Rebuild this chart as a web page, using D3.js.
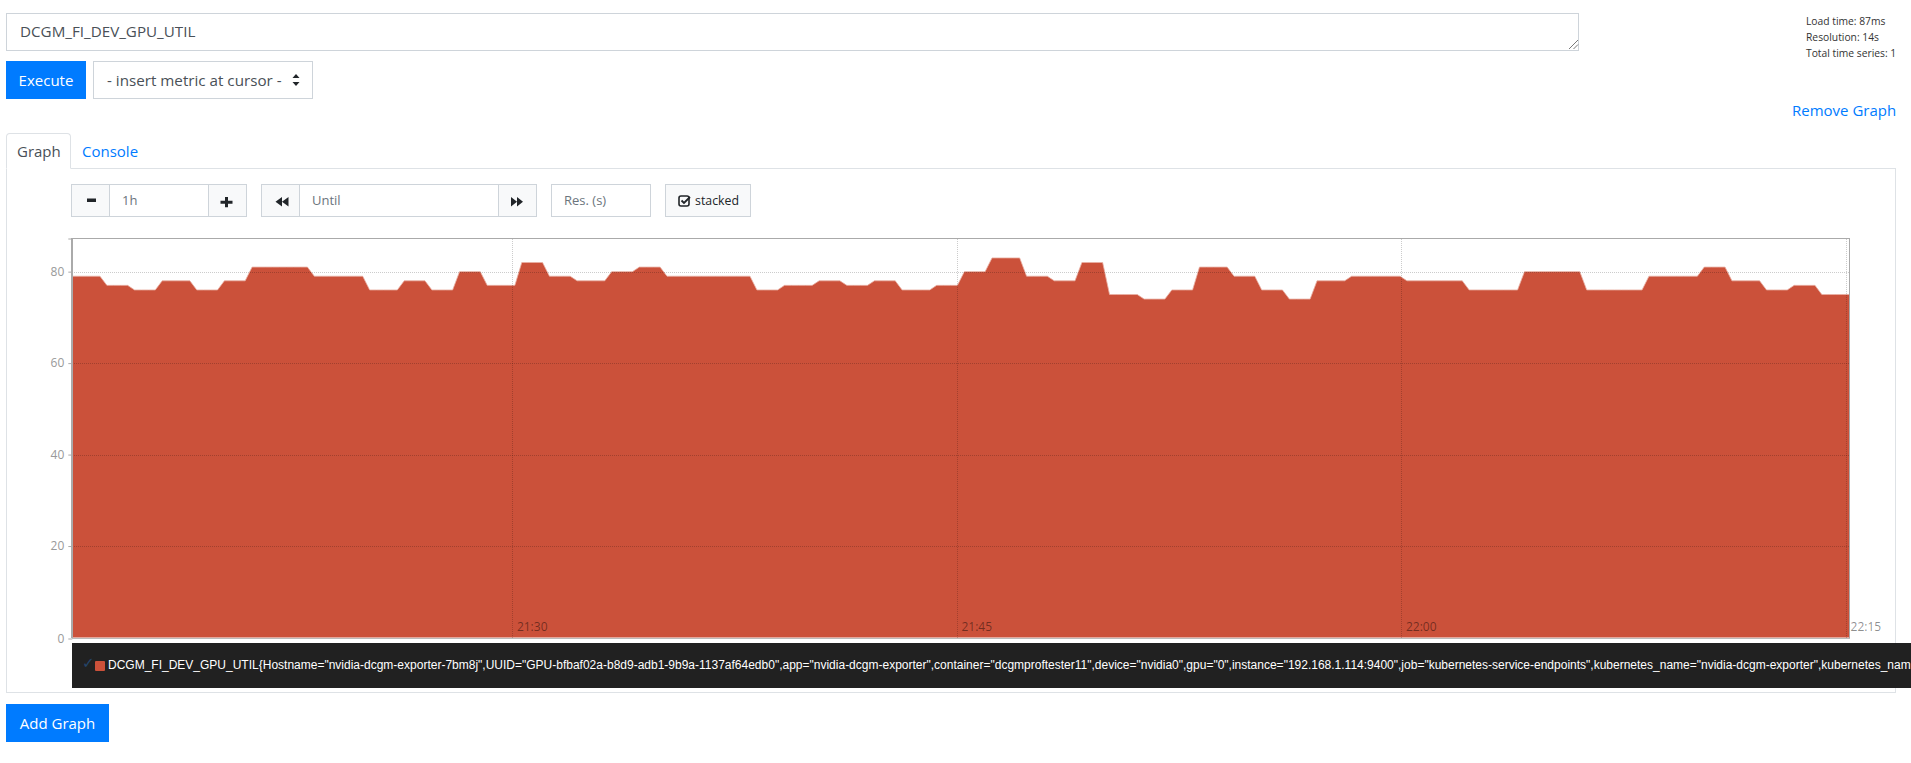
<!DOCTYPE html>
<html>
<head>
<meta charset="utf-8">
<script src="https://cdnjs.cloudflare.com/ajax/libs/d3/7.8.5/d3.min.js"></script>
<style>
  html, body { margin: 0; padding: 0; background: #fff; overflow: hidden; }
  body { width: 1911px; height: 763px; position: relative; font-family: "Open Sans", sans-serif; color: #495057; }
  .box { position: absolute; box-sizing: border-box; }
  .field { border: 1px solid #ced4da; background: #fff; font-size: 15.2px; line-height: 1; display: flex; align-items: center; }
  .btn { background: #007bff; color: #fff; font-size: 15px; display: flex; align-items: center; justify-content: center; }
  .addon { background: #f8f9fa; border: 1px solid #ced4da; color: #212529; display: flex; align-items: center; justify-content: center; font-size: 13px; }
  .small { font-size: 13px; color: #6c757d; padding-left: 12px; }
  #info { left: 1806px; top: 13px; font-size: 10.3px; line-height: 16px; color: #333; white-space: nowrap; }
  #legend { left: 72px; top: 643px; width: 1839px; height: 45px; background: #212121; overflow: hidden; }
  #legend .swatch { position: absolute; left: 23px; top: 18px; width: 10px; height: 10px; background: #cb513a; border-radius: 1px; }
  #legend .check { position: absolute; left: 10px; top: 11px; font-size: 15px; color: #24456b; font-family: "DejaVu Sans"; }
  #legend .label { position: absolute; left: 36px; top: 15px; font: 12px "Liberation Sans"; color: #fff; white-space: nowrap; }
</style>
</head>
<body>
<div id="wrapper"></div>
<script>
// chart values (one sample every 14s)
const startTime = "21:15:09"
const stepSeconds = 14
const utilization = [
  79,79,79,79,79, 77,77,77,77, 76,76,76,76, 78,78,78,78,78, 76,76,76,76, 78,78,78,78,
  81,81,81,81,81,81,81,81,81, 79,79,79,79,79,79,79,79, 76,76,76,76,76, 78,78,78,78,
  76,76,76,76, 80,80,80,80, 77,77,77,77,77, 82,82,82,82, 79,79,79,79, 78,78,78,78,78,
  80,80,80,80, 81,81,81,81, 79,79,79,79,79,79,79,79,79,79,79,79,79, 76,76,76,76,
  77,77,77,77,77, 78,78,78,78, 77,77,77,77, 78,78,78,78, 76,76,76,76,76, 77,77,77,77,
  80,80,80,80, 83,83,83,83,83, 79,79,79,79, 78,78,78,78, 82,82,82,82, 75,75,75,75,75,
  74,74,74,74, 76,76,76,76, 81,81,81,81,81, 79,79,79,79, 76,76,76,76, 74,74,74,74,
  78,78,78,78,78, 79,79,79,79,79,79,79,79, 78,78,78,78,78,78,78,78,78,
  76,76,76,76,76,76,76,76, 80,80,80,80,80,80,80,80,80, 76,76,76,76,76,76,76,76,76,
  79,79,79,79,79,79,79,79, 81,81,81,81, 78,78,78,78,78, 76,76,76,76, 77,77,77,77,
  75,75,75,75,75
]
const yTicks = [0, 20, 40, 60, 80]
const yMax = 87.25
const xTickLabels = ["21:30", "21:45", "22:00", "22:15"]
const infoLines = ["Load time: 87ms", "Resolution: 14s", "Total time series: 1"]
const legendText = 'DCGM_FI_DEV_GPU_UTIL{Hostname="nvidia-dcgm-exporter-7bm8j",UUID="GPU-bfbaf02a-b8d9-adb1-9b9a-1137af64edb0",app="nvidia-dcgm-exporter",container="dcgmproftester11",device="nvidia0",gpu="0",instance="192.168.1.114:9400",job="kubernetes-service-endpoints",kubernetes_name="nvidia-dcgm-exporter",kubernetes_nam'

const parseTime = d3.timeParse("%H:%M:%S")
const fill = "#cb513a"

// create dimensions
const dimensions = { left: 72.3, right: 1849.5, top: 238.5, bottom: 637.5 }

// page chrome around the graph
const body = d3.select("#wrapper")
function box(x, y, w, h, cls, text) {
  return body.append("div")
    .attr("class", "box " + cls)
    .style("left", x + "px").style("top", y + "px")
    .style("width", w + "px").style("height", h + "px")
    .text(text || "")
}

box(6, 13, 1573, 38, "field", "DCGM_FI_DEV_GPU_UTIL").style("padding-left", "13px")
box(6, 61, 80, 38, "btn", "Execute")
box(93, 61, 220, 38, "field", "- insert metric at cursor -").style("padding-left", "13px").style("padding-top", "2px")
body.append("div").attr("class", "box").attr("id", "info")
  .selectAll("div").data(infoLines).join("div").text(d => d)
box(1792, 100, 104, 22, "", "Remove Graph").style("color", "#007bff").style("font-size", "15px").style("white-space", "nowrap")

// tabs and panel
box(6, 168, 1890, 525, "").style("border", "1px solid #dee2e6")
box(6, 133, 65, 36, "", "Graph")
  .style("border", "1px solid #dee2e6").style("border-bottom", "1px solid #fff")
  .style("border-radius", "4px 4px 0 0").style("background", "#fff")
  .style("font-size", "15px").style("padding", "7px 0 0 10px")
box(82, 141, 70, 24, "", "Console").style("color", "#007bff").style("font-size", "15px")

// graph controls
box(71, 184, 39, 33, "addon")
box(109, 184, 100, 33, "field small", "1h")
box(208, 184, 39, 33, "addon")
box(261, 184, 39, 33, "addon")
box(299, 184, 200, 33, "field small", "Until")
box(498, 184, 39, 33, "addon")
box(551, 184, 100, 33, "field small", "Res. (s)")
box(665, 184, 86, 33, "addon", "stacked")
  .style("font-size", "12.3px").style("padding-left", "18px").style("align-items", "center")

// draw the graph
const svg = body.append("svg")
  .attr("width", 1911).attr("height", 763)
  .style("position", "absolute").style("left", 0).style("top", 0)
  .style("pointer-events", "none")

// icons on the controls
const icons = svg.append("g").attr("id", "icons").attr("fill", "#212529")
icons.append("rect").attr("x", 87).attr("y", 198.5).attr("width", 9).attr("height", 3.5)
icons.append("path").attr("d", "M225 197h3v3.7h4.5v3h-4.5v3.5h-3v-3.5h-4.5v-3h4.5z")
icons.append("path").attr("d", "M282 197v9.5l-6.5-4.75zM288.5 197v9.5l-6.5-4.75z")
icons.append("path").attr("d", "M511 197v9.5l6 -4.75zM517 197v9.5l6-4.75z")
icons.append("path").attr("d", "M296 74l-3.5 4h7zM296 86l-3.5-4h7z")
icons.append("rect").attr("x", 679).attr("y", 196).attr("width", 10).attr("height", 10).attr("rx", 2)
  .attr("fill", "none").attr("stroke", "#212529").attr("stroke-width", 1.6)
icons.append("path").attr("d", "M681.5 200.5l2.5 2.5 6-6").attr("fill", "none").attr("stroke", "#212529").attr("stroke-width", 1.8)

// textarea resize handle
icons.append("path").attr("d", "M1569 49l9-9M1573.5 49l4.5-4.5").attr("stroke", "#555").attr("stroke-width", 0.8).attr("fill", "none")

const t0 = parseTime(startTime)
const samples = utilization.map((v, i) => ({ time: d3.timeSecond.offset(t0, i * stepSeconds), value: v }))

const xScale = d3.scaleTime()
  .domain(d3.extent(samples, d => d.time))
  .range([dimensions.left, dimensions.right])
const yScale = d3.scaleLinear()
  .domain([0, yMax])
  .range([dimensions.bottom, dimensions.top])

const area = d3.area()
  .x(d => xScale(d.time))
  .y0(yScale(0))
  .y1(d => yScale(d.value))

svg.append("path").datum(samples)
  .attr("d", area)
  .attr("fill", fill)
svg.append("path").datum(samples)
  .attr("d", d3.line().x(d => xScale(d.time)).y(d => yScale(d.value)))
  .attr("fill", "none")
  .attr("stroke", "#e8b0a4")
  .attr("stroke-opacity", 0.8)
  .attr("stroke-width", 1)

// y axis and horizontal grid
const yAxis = svg.append("g")
  .attr("id", "y-axis")
  .attr("transform", `translate(${dimensions.left},0)`)
  .call(d3.axisLeft(yScale).tickValues(yTicks.concat(yMax)).tickFormat(d => d === yMax ? "" : d).tickSize(4).tickPadding(4))
yAxis.select("path").remove()
yAxis.selectAll("line").attr("stroke", "#aaa")
yAxis.selectAll("text").attr("font-size", 12).attr("font-family", "Open Sans").attr("fill", "#999")
// the bottom tick sits a little under the plot
yAxis.selectAll(".tick").filter(d => d === 0).attr("transform", `translate(0,${dimensions.bottom + 1.5})`)

const gridColor = "rgba(0,0,0,0.2)"
svg.append("g").attr("id", "y-grid")
  .attr("shape-rendering", "crispEdges")
  .selectAll("line").data(yTicks.filter(d => d > 0)).join("line")
  .attr("x1", Math.round(dimensions.left)).attr("x2", dimensions.right)
  .attr("y1", d => Math.round(yScale(d)) + 0.5).attr("y2", d => Math.round(yScale(d)) + 0.5)
  .attr("stroke", gridColor)
  .attr("stroke-dasharray", "1,1")

// x axis and vertical grid
const xTicks = xTickLabels.map(d => parseTime(d + ":00"))
svg.append("g").attr("id", "x-grid")
  .attr("shape-rendering", "crispEdges")
  .selectAll("line").data(xTicks).join("line")
  .attr("x1", d => Math.round(xScale(d)) + 0.5).attr("x2", d => Math.round(xScale(d)) + 0.5)
  .attr("y1", Math.round(dimensions.top)).attr("y2", dimensions.bottom)
  .attr("stroke", gridColor)
  .attr("stroke-dasharray", "1,1")

const xAxis = svg.append("g")
  .attr("id", "x-axis")
  .attr("transform", `translate(0,${dimensions.bottom - 19})`)
  .call(d3.axisBottom(xScale).tickValues(xTicks).tickFormat(d3.timeFormat("%H:%M")).tickSize(0).tickPadding(0))
xAxis.select("path").remove()
xAxis.selectAll("text")
  .attr("text-anchor", "start").attr("dx", 4).attr("y", 4)
  .attr("font-size", 12).attr("font-family", "Open Sans")
  .attr("fill", "rgba(0,0,0,0.45)")

// plot frame
const frame = svg.append("g").attr("id", "frame").attr("fill", "none").attr("shape-rendering", "crispEdges")
frame.append("path")
  .attr("d", `M${dimensions.left - 0.5},${dimensions.bottom}V${dimensions.top}H${dimensions.right}V${dimensions.bottom}`)
  .attr("stroke", "#aaa")
frame.append("path")
  .attr("d", `M${dimensions.left - 0.5},${dimensions.bottom}V${dimensions.top}`)
  .attr("stroke", "#aaa").attr("stroke-width", 2)
frame.append("path")
  .attr("d", `M${dimensions.left},${dimensions.bottom + 0.5}H${dimensions.right}`)
  .attr("stroke", "#bbb")

// legend
const legend = body.append("div").attr("class", "box").attr("id", "legend")
legend.append("span").attr("class", "check").text("\u2713")
legend.append("span").attr("class", "swatch")
legend.append("span").attr("class", "label").text(legendText)

box(6, 704, 103, 38, "btn", "Add Graph")
</script>
</body>
</html>
